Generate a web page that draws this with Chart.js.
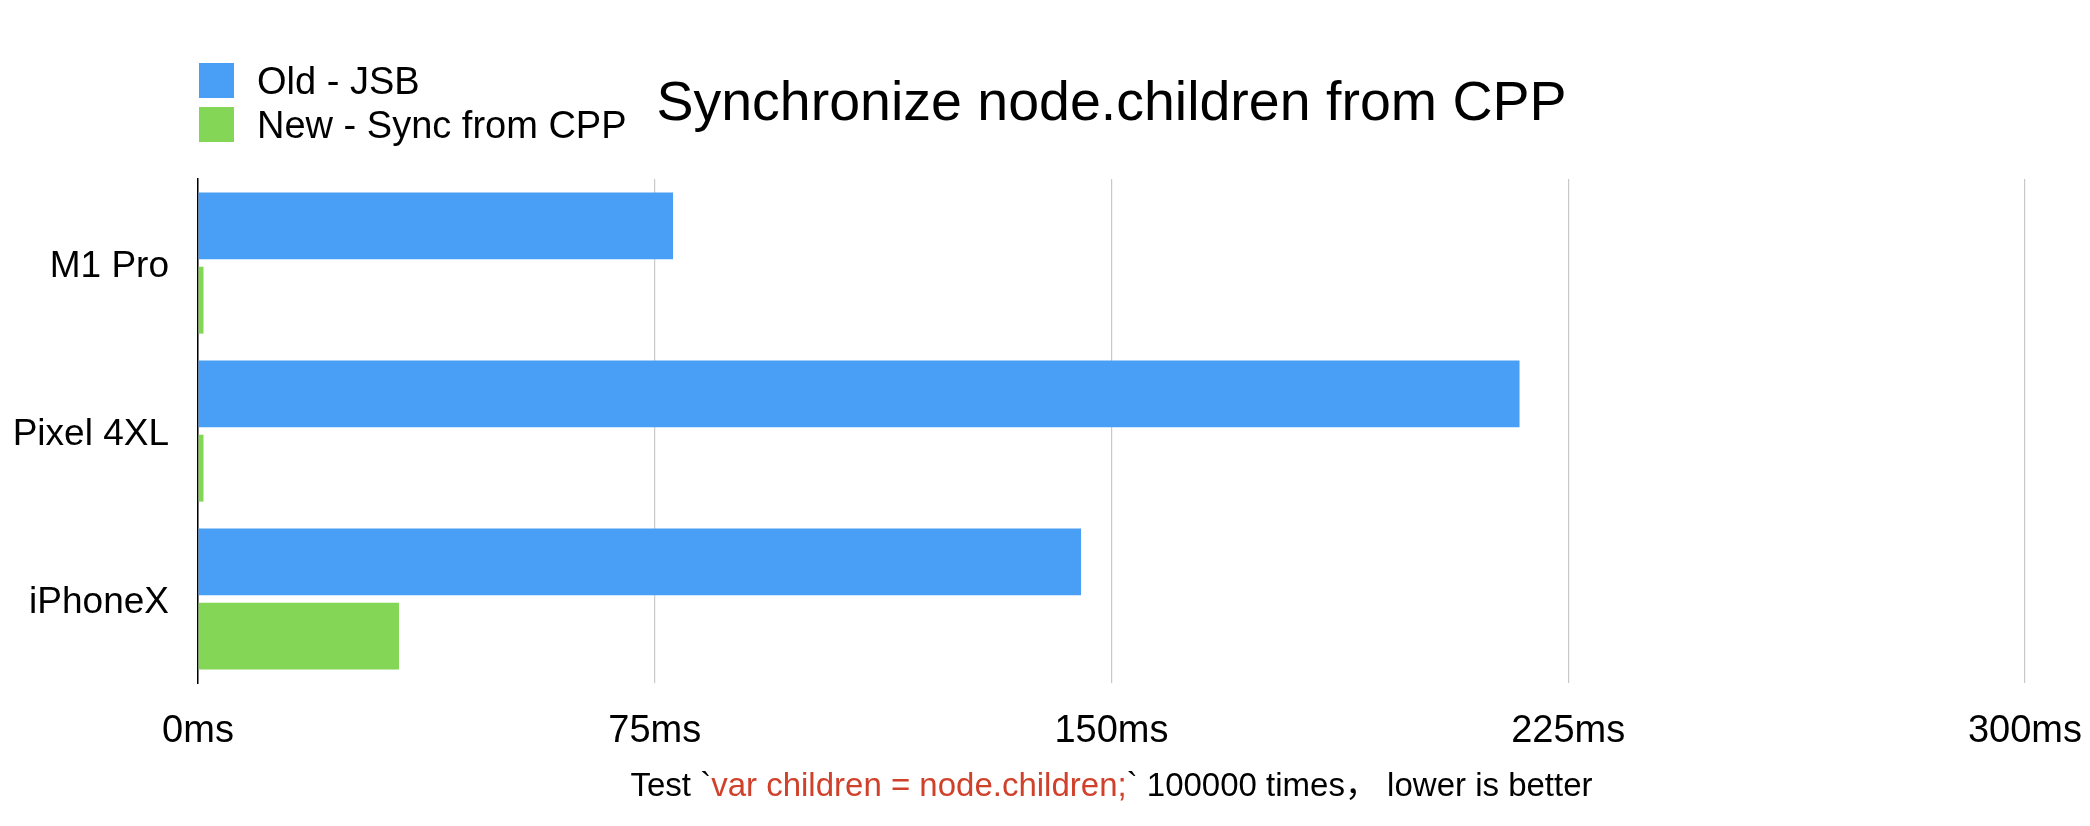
<!DOCTYPE html>
<html>
<head>
<meta charset="utf-8">
<script src="https://cdn.jsdelivr.net/npm/chart.js@4.4.1/dist/chart.umd.min.js"></script>
<style>
  html, body { margin: 0; padding: 0; background: #ffffff; }
  #wrap { width: 2090px; height: 826px; position: relative; }
</style>
</head>
<body>
<div id="wrap"><canvas id="c" width="2090" height="826"></canvas></div>
<script>
const categories = ['M1 Pro', 'Pixel 4XL', 'iPhoneX'];
const seriesNames = ['Old - JSB', 'New - Sync from CPP'];
const oldJSB = [78, 217, 145];
const newSync = [0.9, 0.9, 33];
const xTickValues = [0, 75, 150, 225, 300];
const tickUnit = 'ms';
const chartTitle = 'Synchronize node.children from CPP';
const captionParts = ['Test `', 'var children = node.children;', '` 100000 times\uFF0C lower is better'];

const BLUE = '#499ff6';
const GREEN = '#84d656';
const RED = '#d0412b';
const FONT = '"Liberation Sans", Arial, Helvetica, "Noto Sans CJK SC", sans-serif';

const decor = {
  id: 'decor',
  afterDraw(chart) {
    const ctx = chart.ctx;
    const area = chart.chartArea;
    const cx = (area.left + area.right) / 2;
    ctx.save();
    // legend
    chart.data.datasets.forEach((ds, i) => {
      const top = 63 + i * 44;
      ctx.fillStyle = ds.backgroundColor;
      ctx.fillRect(199, top, 35, 35);
      ctx.fillStyle = '#000';
      ctx.font = '38px ' + FONT;
      ctx.textBaseline = 'middle';
      ctx.textAlign = 'left';
      ctx.fillText(ds.label, 257, top + 21);
    });
    // title
    ctx.font = '55.5px ' + FONT;
    ctx.textAlign = 'center';
    ctx.textBaseline = 'middle';
    ctx.fillStyle = '#000';
    ctx.fillText(chartTitle, cx, 105);
    // caption
    ctx.font = '33px ' + FONT;
    const widths = captionParts.map(t => ctx.measureText(t).width);
    const total = widths.reduce((a, b) => a + b, 0);
    let x = cx - total / 2;
    ctx.textAlign = 'left';
    captionParts.forEach((t, i) => {
      ctx.fillStyle = i === 1 ? RED : '#000';
      ctx.fillText(t, x, 787);
      x += widths[i];
    });
    ctx.restore();
  }
};

new Chart(document.getElementById('c'), {
  type: 'bar',
  data: {
    labels: categories,
    datasets: [
      { label: seriesNames[0], data: oldJSB, backgroundColor: BLUE, barPercentage: 0.9, categoryPercentage: 0.885 },
      { label: seriesNames[1], data: newSync, backgroundColor: GREEN, barPercentage: 0.9, categoryPercentage: 0.885 }
    ]
  },
  options: {
    indexAxis: 'y',
    responsive: false,
    animation: false,
    layout: { padding: { top: 179, left: 0, right: 65, bottom: 83 } },
    plugins: { legend: { display: false }, title: { display: false }, tooltip: { enabled: false } },
    scales: {
      x: {
        type: 'linear',
        min: xTickValues[0],
        max: xTickValues[xTickValues.length - 1],
        afterBuildTicks: (scale) => { scale.ticks = xTickValues.map(v => ({ value: v })); },
        afterFit: (scale) => { scale.height = 60; scale.paddingLeft = 0; scale.paddingRight = 0; },
        ticks: {
          callback: (v) => v + tickUnit,
          color: '#000',
          font: { family: FONT, size: 38 },
          padding: 26,
          maxRotation: 0
        },
        grid: { color: '#c8c8c8', lineWidth: 1.2, drawTicks: false },
        border: { display: false }
      },
      y: {
        afterFit: (scale) => { scale.width = 198; scale.paddingTop = 0; scale.paddingBottom = 0; },
        ticks: {
          color: '#000',
          font: { family: FONT, size: 37 },
          padding: 29,
          labelOffset: 4
        },
        grid: { display: false, drawTicks: false },
        border: { display: true, color: '#000', width: 1.5 }
      }
    }
  },
  plugins: [decor]
});
</script>
</body>
</html>
